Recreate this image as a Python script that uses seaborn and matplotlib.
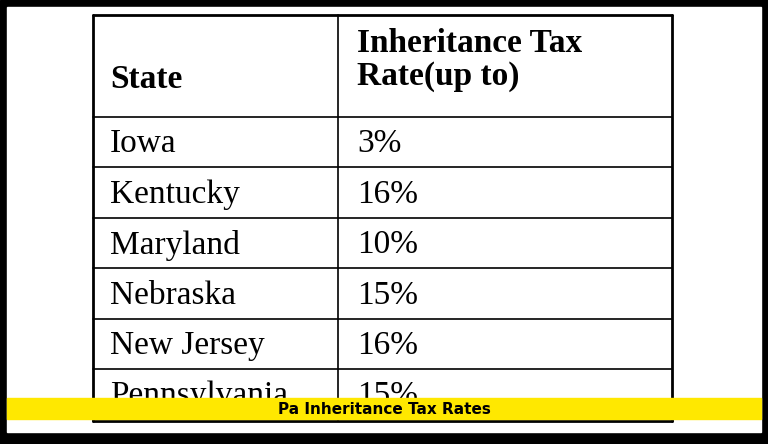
import matplotlib
matplotlib.use("Agg")
import matplotlib.pyplot as plt
import seaborn as sns
from matplotlib.patches import Rectangle

sns.set_theme(style="white")
plt.rcParams['font.family'] = ['Liberation Serif', 'DejaVu Serif']

header_state = "State"
header_rate = "Inheritance Tax\nRate(up to)"
states = ["Iowa", "Kentucky", "Maryland", "Nebraska", "New Jersey", "Pennsylvania"]
rates = ["3%", "16%", "10%", "15%", "16%", "15%"]
caption = "Pa Inheritance Tax Rates"

W, H = 768, 444
fig = plt.figure(figsize=(W/100, H/100), dpi=100)
ax = fig.add_axes([0, 0, 1, 1])
ax.set_xlim(0, W); ax.set_ylim(H, 0); ax.axis("off")

ax.add_patch(Rectangle((0, 0), W, H, color="black", zorder=0))
ax.add_patch(Rectangle((7, 7), W-14, 425, color="white", zorder=1))

x0, x1, xm = 93, 672, 338
top, hdr = 15, 117
rowh = 50.4
lw = 1.2
ax.plot([x0, x0], [top, 421], color="black", lw=2, zorder=2)
ax.plot([x1, x1], [top, 421], color="black", lw=2, zorder=2)
ax.plot([x0, x1], [top, top], color="black", lw=2, zorder=2)
ax.plot([x0, x1], [421, 421], color="black", lw=2, zorder=2)
ax.plot([xm, xm], [top, 421], color="black", lw=lw, zorder=2)
ax.plot([x0, x1], [hdr, hdr], color="black", lw=lw, zorder=2)
for i in range(1, len(states)):
    y = hdr + i*rowh
    ax.plot([x0, x1], [y, y], color="black", lw=lw, zorder=2)

clip = Rectangle((0, 0), W, 398, transform=ax.transData, visible=False)
ax.add_patch(clip)

ax.text(110, 79, header_state, fontsize=24, fontweight="bold", va="center", ha="left",
        color="black", zorder=3)
ax.text(357, 60, header_rate, fontsize=24, fontweight="bold", va="center", ha="left",
        linespacing=1.1, color="black", zorder=3)
for i, (s, r) in enumerate(zip(states, rates)):
    yc = hdr + i*rowh + rowh/2 + 2
    for xx, t in ((110, s), (357, r)):
        tx = ax.text(xx, yc, t, fontsize=24, va="center", ha="left", color="black", zorder=3)
        tx.set_clip_path(clip)

ax.add_patch(Rectangle((7, 398), W-14, 21, color="#ffe800", zorder=4))
ax.text(W/2, 409, caption, fontsize=11, fontweight="bold", family="DejaVu Sans",
        ha="center", va="center", color="black", zorder=5)

fig.savefig("out.png", dpi=100)
